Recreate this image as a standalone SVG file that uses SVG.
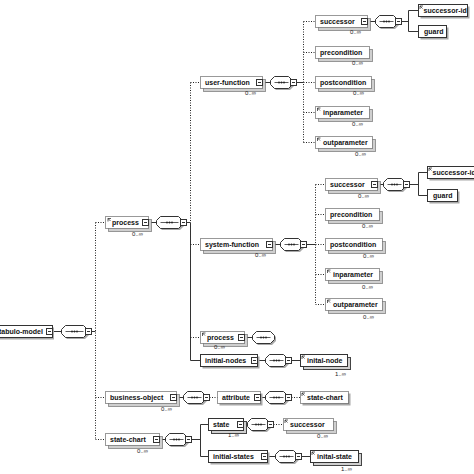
<svg xmlns="http://www.w3.org/2000/svg" xmlns:xlink="http://www.w3.org/1999/xlink" width="474" height="474" viewBox="0 0 474 474">
<style>
.f{fill:#fff;stroke:#333;stroke-width:1}
.dt{stroke-dasharray:1 1}
.bk{fill:#cfcfcf;stroke:#444;stroke-width:1}
.sh{fill:#a8a8a8}
.t{font-family:"Liberation Sans",Arial,sans-serif;font-size:7px;font-weight:bold;fill:#111}
.o{font-family:"Liberation Sans",Arial,sans-serif;font-size:6px;fill:#222;text-anchor:end}
.l{stroke:#333;stroke-width:1;fill:none}
.ld{stroke:#222;stroke-width:1;fill:none;stroke-dasharray:1 1.5}
</style>
<defs>
<g id="sq">
<polygon points="4,-6 18,-6 22,-2 22,2 18,6 4,6 0,2 0,-2" transform="translate(1.5,1.5)" fill="#a8a8a8"/>
<polygon points="4,-6 18,-6 22,-2 22,2 18,6 4,6 0,2 0,-2" fill="#fff" stroke="#333"/>
<path d="M4,0 H18" stroke="#333" stroke-width="0.8"/>
<circle cx="8.5" cy="0" r="0.9" fill="#222"/><circle cx="11" cy="0" r="0.9" fill="#222"/><circle cx="13.5" cy="0" r="0.9" fill="#222"/>
</g>
<g id="sqw">
<polygon points="4,-6 22,-6 26,-2 26,2 22,6 4,6 0,2 0,-2" transform="translate(1.5,1.5)" fill="#a8a8a8"/>
<polygon points="4,-6 22,-6 26,-2 26,2 22,6 4,6 0,2 0,-2" fill="#fff" stroke="#333"/>
<path d="M4,0 H22" stroke="#333" stroke-width="0.8"/>
<circle cx="10.5" cy="0" r="0.9" fill="#222"/><circle cx="13" cy="0" r="0.9" fill="#222"/><circle cx="15.5" cy="0" r="0.9" fill="#222"/>
</g>
<g id="ex">
<rect x="-3" y="-3" width="6" height="6" fill="#fff" stroke="#333"/>
<path d="M-1.5,0 H1.5" stroke="#333"/>
</g>
<g id="mk">
<path d="M0.5,3.5 V0.5 H3.5 M0.5,0.5 L3,3" stroke="#333" stroke-width="0.8" fill="none"/>
</g>
</defs>

<g id="connectors">
<path class="l" d="M52.5,331.5 H61.5 M91.5,331.5 H95.5 M148.5,222.5 H156.5 M186.5,222.5 H190.5 M190.5,222.5 V360.5 M190.5,360.5 H200.5 M262.5,82.5 H270.5 M296.5,82.5 H303.5 M367.5,21.5 H375.5 M401.5,21.5 H408.5 M408.5,10.5 V31.5 M408.5,10.5 H418.5 M408.5,31.5 H418.5 M272.5,244.5 H280.5 M306.5,244.5 H315.5 M377.5,184.5 H383.5 M409.5,184.5 H418.5 M418.5,172.5 V195.5 M418.5,172.5 H427.5 M418.5,195.5 H427.5 M244.5,337.5 H252.5 M257.5,360.5 H265.5 M291.5,360.5 H300.5 M176.5,397.5 H183.5 M260.5,397.5 H265.5 M159.5,439.5 H165.5 M191.5,439.5 H200.5 M200.5,424.5 V456.5 M200.5,424.5 H208.5 M200.5,456.5 H208.5 M243.5,424.5 H247.5 M267.5,456.5 H275.5 M301.5,456.5 H310.5"/>
<path class="ld" d="M95.5,222.5 V439.5 M95.5,222.5 H105.5 M95.5,397.5 H105.5 M95.5,439.5 H105.5 M190.5,82.5 V222.5 M190.5,82.5 H200.5 M190.5,244.5 H200.5 M190.5,337.5 H200.5 M303.5,21.5 V142.5 M303.5,21.5 H315.5 M303.5,52.5 H315.5 M303.5,82.5 H315.5 M303.5,112.5 H315.5 M303.5,142.5 H315.5 M315.5,184.5 V304.5 M315.5,184.5 H325.5 M315.5,214.5 H325.5 M315.5,244.5 H325.5 M315.5,274.5 H325.5 M315.5,304.5 H325.5 M209.5,397.5 H217.5 M291.5,397.5 H300.5 M273.5,424.5 H283.5"/>
</g>

<g id="seq-tabulo-model"><use href="#sqw" x="61.5" y="331.5"/><use href="#ex" x="88.5" y="331.5"/></g>
<g id="seq-process"><use href="#sqw" x="156.5" y="222.5"/><use href="#ex" x="183.5" y="222.5"/></g>
<g id="seq-user-function"><use href="#sq" x="270.5" y="82.5"/><use href="#ex" x="293.5" y="82.5"/></g>
<g id="seq-uf-successor"><use href="#sq" x="375.5" y="21.5"/><use href="#ex" x="398.5" y="21.5"/></g>
<g id="seq-system-function"><use href="#sq" x="280.5" y="244.5"/><use href="#ex" x="303.5" y="244.5"/></g>
<g id="seq-sf-successor"><use href="#sq" x="383.5" y="184.5"/><use href="#ex" x="406.5" y="184.5"/></g>
<g id="seq-process2"><use href="#sq" x="252.5" y="337.5"/></g>
<g id="seq-initial-nodes"><use href="#sq" x="265.5" y="360.5"/><use href="#ex" x="288.5" y="360.5"/></g>
<g id="seq-business-object"><use href="#sq" x="183.5" y="397.5"/><use href="#ex" x="206.5" y="397.5"/></g>
<g id="seq-attribute"><use href="#sq" x="265.5" y="397.5"/><use href="#ex" x="288.5" y="397.5"/></g>
<g id="seq-state-chart"><use href="#sq" x="165.5" y="439.5"/><use href="#ex" x="188.5" y="439.5"/></g>
<g id="seq-state"><use href="#sq" x="247.5" y="424.5"/><use href="#ex" x="270.5" y="424.5"/></g>
<g id="seq-initial-states"><use href="#sq" x="275.5" y="456.5"/><use href="#ex" x="298.5" y="456.5"/></g>

<g id="tabulo-model">
<rect class="sh" x="-4" y="327.5" width="58" height="12"/>
<rect class="f" x="-5.5" y="325.5" width="58" height="12"/>
<text class="t" x="-1" y="334">tabulo-model</text>
<use href="#ex" x="49.5" y="331.5"/>
</g>

<g id="process">
<rect class="bk dt" x="108.5" y="219.5" width="43" height="12"/>
<rect class="f dt" x="105.5" y="216.5" width="43" height="12"/>
<use href="#mk" x="107.5" y="218"/>
<text class="t" x="112" y="225">process</text>
<use href="#ex" x="145.5" y="222.5"/>
<text class="o" x="143" y="236">0..∞</text>
</g>

<g id="user-function">
<rect class="bk dt" x="203.5" y="79.5" width="62" height="12"/>
<rect class="f dt" x="200.5" y="76.5" width="62" height="12"/>
<text class="t" x="205" y="85">user-function</text>
<use href="#ex" x="259.5" y="82.5"/>
<text class="o" x="256" y="95">0..∞</text>
</g>

<g id="uf-successor">
<rect class="bk dt" x="318.5" y="18.5" width="52" height="12"/>
<rect class="f dt" x="315.5" y="15.5" width="52" height="12"/>
<text class="t" x="320" y="24">successor</text>
<use href="#ex" x="364.5" y="21.5"/>
<text class="o" x="361" y="34">0..∞</text>
</g>

<g id="uf-successor-id">
<rect class="sh" x="420.5" y="6.5" width="49" height="12"/>
<rect class="f" x="418.5" y="4.5" width="49" height="12"/>
<use href="#mk" x="419.5" y="5.5"/>
<text class="t" x="423.5" y="13">successor-id</text>
</g>

<g id="uf-guard">
<rect class="sh" x="420.5" y="27.5" width="28" height="12"/>
<rect class="f" x="418.5" y="25.5" width="28" height="12"/>
<text class="t" x="424" y="34">guard</text>
</g>

<g id="uf-precondition">
<rect class="bk dt" x="318.5" y="49.5" width="54" height="12"/>
<rect class="f dt" x="315.5" y="46.5" width="54" height="12"/>
<text class="t" x="320" y="55">precondition</text>
<text class="o" x="363" y="65">0..∞</text>
</g>

<g id="uf-postcondition">
<rect class="bk dt" x="318.5" y="79.5" width="56" height="12"/>
<rect class="f dt" x="315.5" y="76.5" width="56" height="12"/>
<text class="t" x="320" y="85">postcondition</text>
<text class="o" x="364" y="95">0..∞</text>
</g>

<g id="uf-inparameter">
<rect class="bk dt" x="318.5" y="109.5" width="54" height="12"/>
<rect class="f dt" x="315.5" y="106.5" width="54" height="12"/>
<use href="#mk" x="317" y="107.5"/>
<text class="t" x="323" y="115">inparameter</text>
<text class="o" x="363" y="126">0..∞</text>
</g>

<g id="uf-outparameter">
<rect class="bk dt" x="318.5" y="139.5" width="57" height="12"/>
<rect class="f dt" x="315.5" y="136.5" width="57" height="12"/>
<use href="#mk" x="317" y="137.5"/>
<text class="t" x="323" y="145">outparameter</text>
<text class="o" x="366" y="156">0..∞</text>
</g>

<g id="system-function">
<rect class="bk dt" x="203.5" y="241.5" width="72" height="12"/>
<rect class="f dt" x="200.5" y="238.5" width="72" height="12"/>
<text class="t" x="205" y="247">system-function</text>
<use href="#ex" x="269.5" y="244.5"/>
<text class="o" x="266" y="257">0..∞</text>
</g>

<g id="sf-successor">
<rect class="bk dt" x="328.5" y="181.5" width="52" height="12"/>
<rect class="f dt" x="325.5" y="178.5" width="52" height="12"/>
<text class="t" x="330" y="187">successor</text>
<use href="#ex" x="374.5" y="184.5"/>
<text class="o" x="369" y="198">0..∞</text>
</g>

<g id="sf-successor-id">
<rect class="sh" x="429.5" y="168.5" width="50" height="12"/>
<rect class="f" x="427.5" y="166.5" width="50" height="12"/>
<use href="#mk" x="428.5" y="167.5"/>
<text class="t" x="432.5" y="175">successor-id</text>
</g>

<g id="sf-guard">
<rect class="sh" x="429.5" y="191.5" width="30" height="12"/>
<rect class="f" x="427.5" y="189.5" width="30" height="12"/>
<text class="t" x="433" y="198">guard</text>
</g>

<g id="sf-precondition">
<rect class="bk dt" x="328.5" y="211.5" width="54" height="12"/>
<rect class="f dt" x="325.5" y="208.5" width="54" height="12"/>
<text class="t" x="330" y="217">precondition</text>
<text class="o" x="373" y="228">0..∞</text>
</g>

<g id="sf-postcondition">
<rect class="bk dt" x="328.5" y="241.5" width="57" height="12"/>
<rect class="f dt" x="325.5" y="238.5" width="57" height="12"/>
<text class="t" x="330" y="247">postcondition</text>
<text class="o" x="374" y="258">0..∞</text>
</g>

<g id="sf-inparameter">
<rect class="bk dt" x="328.5" y="271.5" width="54" height="12"/>
<rect class="f dt" x="325.5" y="268.5" width="54" height="12"/>
<use href="#mk" x="327" y="269.5"/>
<text class="t" x="333" y="277">inparameter</text>
<text class="o" x="373" y="289">0..∞</text>
</g>

<g id="sf-outparameter">
<rect class="bk dt" x="328.5" y="301.5" width="57" height="12"/>
<rect class="f dt" x="325.5" y="298.5" width="57" height="12"/>
<use href="#mk" x="327" y="299.5"/>
<text class="t" x="333" y="307">outparameter</text>
<text class="o" x="374" y="319">0..∞</text>
</g>

<g id="process2">
<rect class="bk dt" x="203.5" y="334.5" width="44" height="12"/>
<rect class="f dt" x="200.5" y="331.5" width="44" height="12"/>
<use href="#mk" x="202" y="332.5"/>
<text class="t" x="207" y="340">process</text>
<use href="#ex" x="241.5" y="337.5"/>
<text class="o" x="225" y="349">0..∞</text>
</g>

<g id="initial-nodes">
<rect class="sh" x="202.5" y="356.5" width="57" height="12"/>
<rect class="f" x="200.5" y="354.5" width="57" height="12"/>
<text class="t" x="205" y="363">initial-nodes</text>
<use href="#ex" x="254.5" y="360.5"/>
</g>

<g id="inital-node">
<rect class="bk" x="303.5" y="357.5" width="47" height="12"/>
<rect class="f" x="300.5" y="354.5" width="47" height="12"/>
<use href="#mk" x="301.5" y="355.5"/>
<text class="t" x="307" y="363">inital-node</text>
<text class="o" x="346" y="376">1..∞</text>
</g>

<g id="business-object">
<rect class="bk dt" x="108.5" y="394.5" width="71" height="12"/>
<rect class="f dt" x="105.5" y="391.5" width="71" height="12"/>
<text class="t" x="110" y="400">business-object</text>
<use href="#ex" x="173.5" y="397.5"/>
<text class="o" x="172" y="411">0..∞</text>
</g>

<g id="attribute">
<rect class="sh" x="219.5" y="393.5" width="43" height="12"/>
<rect class="f dt" x="217.5" y="391.5" width="43" height="12"/>
<text class="t" x="222" y="400">attribute</text>
<use href="#ex" x="257.5" y="397.5"/>
</g>

<g id="attribute-state-chart">
<rect class="sh" x="302.5" y="393.5" width="48" height="12"/>
<rect class="f dt" x="300.5" y="391.5" width="48" height="12"/>
<use href="#mk" x="301.5" y="392.5"/>
<text class="t" x="307" y="400">state-chart</text>
</g>

<g id="state-chart">
<rect class="bk dt" x="108.5" y="436.5" width="54" height="12"/>
<rect class="f dt" x="105.5" y="433.5" width="54" height="12"/>
<text class="t" x="110" y="442">state-chart</text>
<use href="#ex" x="156.5" y="439.5"/>
<text class="o" x="148" y="453">0..∞</text>
</g>

<g id="state">
<rect class="bk" x="211.5" y="421.5" width="35" height="12"/>
<rect class="f" x="208.5" y="418.5" width="35" height="12"/>
<text class="t" x="213" y="427">state</text>
<use href="#ex" x="240.5" y="424.5"/>
<text class="o" x="239" y="437">1..∞</text>
</g>

<g id="state-successor">
<rect class="bk dt" x="286.5" y="421.5" width="50" height="12"/>
<rect class="f dt" x="283.5" y="418.5" width="50" height="12"/>
<use href="#mk" x="284.5" y="419.5"/>
<text class="t" x="290" y="427">successor</text>
<text class="o" x="328" y="438">0..∞</text>
</g>

<g id="initial-states">
<rect class="sh" x="210.5" y="452.5" width="59" height="12"/>
<rect class="f" x="208.5" y="450.5" width="59" height="12"/>
<text class="t" x="213" y="459">initial-states</text>
<use href="#ex" x="264.5" y="456.5"/>
</g>

<g id="inital-state">
<rect class="bk" x="313.5" y="453.5" width="48" height="12"/>
<rect class="f" x="310.5" y="450.5" width="48" height="12"/>
<use href="#mk" x="311.5" y="451.5"/>
<text class="t" x="317" y="459">inital-state</text>
<text class="o" x="352" y="471">1..∞</text>
</g>
</svg>
